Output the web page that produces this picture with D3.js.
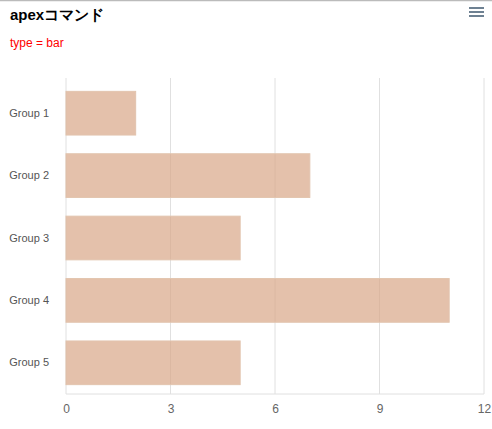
<!DOCTYPE html>
<html><head><meta charset="utf-8">
<script src="https://cdn.jsdelivr.net/npm/d3@7"></script>
<style>body{margin:0;background:#fff}text{font-family:Arial,"Liberation Sans",sans-serif}</style>
</head><body>
<svg id="chart" width="492" height="429"></svg>
<script>
const groups = ['Group 1', 'Group 2', 'Group 3', 'Group 4', 'Group 5']
const values = [2, 7, 5, 11, 5]
const xTicks = [0, 3, 6, 9, 12]

const svg = d3.select('#chart')
const margin = {top: 78, left: 66, right: 8, bottom: 35}
const W = 492, H = 429

svg.append('line').attr('x1', 0).attr('x2', W).attr('y1', 0.5).attr('y2', 0.5)
  .attr('stroke', '#bbb').attr('stroke-width', 1.5)
svg.append('text').attr('x', 10).attr('y', 20).attr('font-size', 15).attr('font-weight', 'bold')
  .attr('fill', '#000').text('apexコマンド')
svg.append('text').attr('x', 10).attr('y', 47).attr('font-size', 12).attr('fill', '#ff0000').text('type = bar')
;[8, 12, 16].forEach(y => svg.append('line').attr('x1', 469).attr('x2', 484).attr('y1', y).attr('y2', y)
  .attr('stroke', '#6e8192').attr('stroke-width', 2))

const x = d3.scaleLinear().domain([0, 12]).range([margin.left, W - margin.right])
const y = d3.scaleBand().domain(groups).range([margin.top + 4, H - margin.bottom]).paddingInner(0.3).paddingOuter(0.15)

svg.append('g').selectAll('line').data(xTicks).join('line')
  .attr('x1', d => x(d)).attr('x2', d => x(d))
  .attr('y1', margin.top).attr('y2', H - margin.bottom)
  .attr('stroke', '#e0e0e0')

svg.append('g').selectAll('rect').data(values).join('rect')
  .attr('x', x(0)).attr('y', (d, i) => y(groups[i]))
  .attr('width', d => x(d) - x(0)).attr('height', y.bandwidth())
  .attr('fill', '#d9a788').attr('fill-opacity', 0.7)
  .attr('stroke', '#e2c4ae').attr('stroke-width', 1)

svg.append('line').attr('x1', x(0)).attr('x2', x(12)).attr('y1', H - margin.bottom).attr('y2', H - margin.bottom)
  .attr('stroke', '#e0e0e0')

const xa = svg.append('g').attr('transform', `translate(0,${H - margin.bottom})`)
  .call(d3.axisBottom(x).tickValues(xTicks).tickSize(0).tickPadding(10))
xa.select('.domain').remove()
xa.selectAll('text').attr('fill', '#666').attr('font-size', 12)

const ya = svg.append('g').attr('transform', `translate(${margin.left - 14},0)`)
  .call(d3.axisLeft(y).tickSize(0))
ya.select('.domain').remove()
ya.selectAll('text').attr('fill', '#555').attr('font-size', 11)
</script>
</body></html>
